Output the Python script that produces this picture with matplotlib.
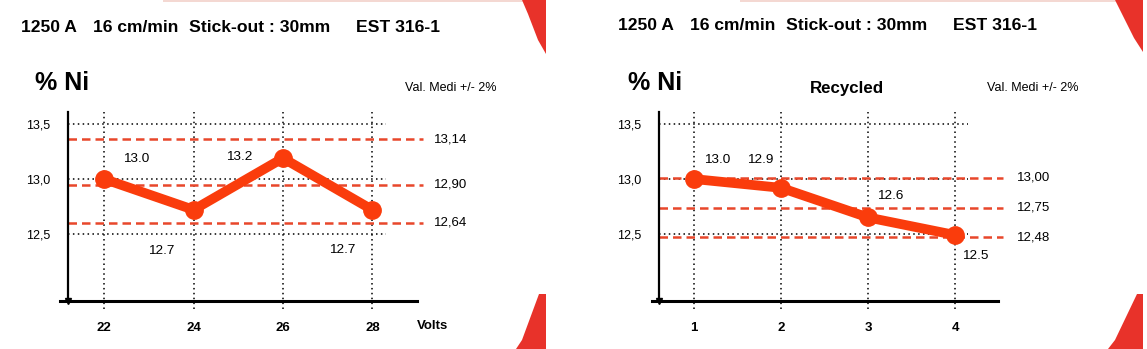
import matplotlib
from matplotlib.patches import Polygon

matplotlib.use("Agg")
import matplotlib.pyplot as plt

WIDTH, HEIGHT = 1147, 349

HEADER = ["1250 A", "16 cm/min", "Stick-out : 30mm", "EST 316-1"]
Y_TICKS = [12.5, 13.0, 13.5]
Y_TICK_LABELS = ["12,5", "13,0", "13,5"]
NOTE = "Val. Medi +/- 2%"

VOLTS = [22, 24, 26, 28]
VOLTS_NI = [13.0, 12.72, 13.19, 12.72]
VOLTS_POINT_LABELS = ["13.0", "12.7", "13.2", "12.7"]
VOLTS_LIMITS = [13.36, 12.95, 12.60]
VOLTS_LIMIT_LABELS = ["13,14", "12,90", "12,64"]

RECYCLED = [1, 2, 3, 4]
RECYCLED_NI = [13.0, 12.92, 12.65, 12.49]
RECYCLED_POINT_LABELS = ["13.0", "12.9", "12.6", "12.5"]
RECYCLED_LIMITS = [13.01, 12.74, 12.47]
RECYCLED_LIMIT_LABELS = ["13,00", "12,75", "12,48"]

LINE_COLOR = "#FA3C0C"
DASH_COLOR = "#E8472B"
DECOR_COLOR = "#E8322A"
BORDER_COLOR = "#F4D8D2"

plt.rcParams["font.family"] = ["Liberation Sans", "DejaVu Sans"]


def fx(px):
    return px / WIDTH


def fy(py):
    return 1 - py / HEIGHT


def draw_header(fig, x0, y):
    for text, dx in zip(HEADER, [0, 72, 168, 335]):
        fig.text(fx(x0 + dx), fy(y), text, fontsize=12.6, fontweight="bold", va="center", ha="left")


def draw_panel(fig, x, y, point_labels, limits, limit_labels, layout):
    left, top, right, bottom = layout["box"]
    ax = fig.add_axes([fx(left), fy(bottom), fx(right - left), (bottom - top) / HEIGHT])
    ax.set_xlim(*layout["xlim"])
    ax.set_ylim(11.89, 13.61)
    ymin, ymax = ax.get_ylim()
    xmin, xmax = ax.get_xlim()
    for side in ["top", "right", "bottom", "left"]:
        ax.spines[side].set_visible(False)
    ax.patch.set_alpha(0)

    ax.hlines(Y_TICKS, xmin, layout["grid_right"], colors="black", linestyles=(0, (1, 2.2)), linewidth=1.1)
    ax.vlines(x, 11.82, ymax, colors="black", linestyles=(0, (1, 2.2)), linewidth=1.1, clip_on=False)

    for level, text in zip(limits, limit_labels):
        ax.plot([xmin, layout["dash_right"]], [level, level], color=DASH_COLOR, linewidth=1.8,
                linestyle=(0, (3.4, 2.0)), clip_on=False)
        ax.text(layout["label_x"], level, text, fontsize=9.5, va="center", ha="left", clip_on=False)

    ax.plot([xmin, xmin], [ymin, ymax], color="black", linewidth=1.6, clip_on=False)
    ax.plot([layout["axis_start"], xmax], [ymin, ymin], color="black", linewidth=2.2, clip_on=False)
    ax.plot([xmin], [ymin], marker="v", color="black", markersize=4.5, clip_on=False)

    ax.plot(x, y, color=LINE_COLOR, linewidth=7, marker="o", markersize=12.5, solid_joinstyle="round",
            solid_capstyle="round", clip_on=False, zorder=5)
    for xv, yv, text, (dx, dy) in zip(x, y, point_labels, layout["offsets"]):
        ax.annotate(text, (xv, yv), xytext=(dx, -dy), textcoords="offset pixels", fontsize=9.7,
                    ha="center", va="center", annotation_clip=False)

    ax.set_xticks(x)
    ax.set_xticklabels([str(v) for v in x], fontsize=9.5, fontweight="bold")
    ax.set_yticks(Y_TICKS)
    ax.set_yticklabels(Y_TICK_LABELS, fontsize=9)
    ax.tick_params(axis="x", length=0, pad=15)
    ax.tick_params(axis="y", length=0, pad=13)
    return ax


def add_decor(fig, points, color=DECOR_COLOR):
    fig.add_artist(Polygon([(fx(px), fy(py)) for px, py in points], closed=True,
                           transform=fig.transFigure, facecolor=color, edgecolor="none"))


fig = plt.figure(figsize=(WIDTH / 100, HEIGHT / 100), dpi=100)

add_decor(fig, [(163, 0), (522, 0), (524, 2), (163, 2)], BORDER_COLOR)
add_decor(fig, [(740, 0), (1115, 0), (1117, 2), (740, 2)], BORDER_COLOR)
add_decor(fig, [(522, 0), (546, 0), (546, 54), (538, 40), (528, 14)])
add_decor(fig, [(539, 294), (546, 294), (546, 349), (516, 349), (522, 340)])
add_decor(fig, [(1115, 0), (1143, 0), (1143, 52), (1134, 38), (1122, 14)])
add_decor(fig, [(1137, 294), (1143, 294), (1143, 349), (1108, 349), (1115, 340)])

draw_header(fig, 21, 28)
draw_header(fig, 618, 26)

fig.text(fx(35), fy(83), "% Ni", fontsize=18, fontweight="bold", va="center", ha="left")
fig.text(fx(628), fy(83), "% Ni", fontsize=18, fontweight="bold", va="center", ha="left")
fig.text(fx(847), fy(88), "Recycled", fontsize=12.2, fontweight="bold", va="center", ha="center")
fig.text(fx(405), fy(88), NOTE, fontsize=9, va="center", ha="left")
fig.text(fx(987), fy(88), NOTE, fontsize=9, va="center", ha="left")

draw_panel(fig, VOLTS, VOLTS_NI, VOLTS_POINT_LABELS, VOLTS_LIMITS, VOLTS_LIMIT_LABELS, {
    "box": (68, 112, 417, 301),
    "xlim": (21.19, 29.0),
    "grid_right": 28.31,
    "dash_right": 29.14,
    "label_x": 29.37,
    "axis_start": 21.01,
    "offsets": [(32, -20), (-32, 41), (-44, -1), (-30, 40)],
})
fig.text(fx(417), fy(326), "Volts", fontsize=9.5, fontweight="bold", va="center", ha="left")

draw_panel(fig, RECYCLED, RECYCLED_NI, RECYCLED_POINT_LABELS, RECYCLED_LIMITS, RECYCLED_LIMIT_LABELS, {
    "box": (659, 112, 998, 301),
    "xlim": (0.6, 4.49),
    "grid_right": 4.15,
    "dash_right": 4.55,
    "label_x": 4.71,
    "axis_start": 0.52,
    "offsets": [(23, -19), (-21, -28), (22, -21), (20, 21)],
})

fig.savefig("out.png", dpi=100)
